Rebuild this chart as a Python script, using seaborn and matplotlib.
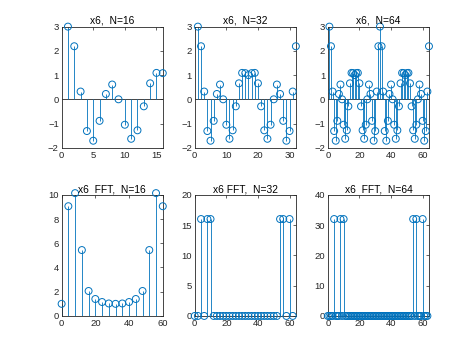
import numpy as np
import matplotlib
matplotlib.use("Agg")
import matplotlib.pyplot as plt
import seaborn as sns

# signal x6, one period is 32 samples
x6_16 = [3.0, 2.19, 0.32, -1.31, -1.71, -0.89, 0.22, 0.61,
         0.0, -1.05, -1.63, -1.28, -0.29, 0.66, 1.09, 1.08]
x6_32 = [3.0, 2.19, 0.32, -1.31, -1.71, -0.89, 0.22, 0.61,
         0.0, -1.05, -1.63, -1.28, -0.29, 0.66, 1.09, 1.08,
         1.0, 1.08, 1.09, 0.66, -0.29, -1.28, -1.63, -1.05,
         0.0, 0.61, 0.22, -0.89, -1.71, -1.31, 0.32, 2.19]
x6_64 = [3.0, 2.19, 0.32, -1.31, -1.71, -0.89, 0.22, 0.61,
         0.0, -1.05, -1.63, -1.28, -0.29, 0.66, 1.09, 1.08,
         1.0, 1.08, 1.09, 0.66, -0.29, -1.28, -1.63, -1.05,
         0.0, 0.61, 0.22, -0.89, -1.71, -1.31, 0.32, 2.19,
         3.0, 2.19, 0.32, -1.31, -1.71, -0.89, 0.22, 0.61,
         0.0, -1.05, -1.63, -1.28, -0.29, 0.66, 1.09, 1.08,
         1.0, 1.08, 1.09, 0.66, -0.29, -1.28, -1.63, -1.05,
         0.0, 0.61, 0.22, -0.89, -1.71, -1.31, 0.32, 2.19]

# FFT magnitudes
fft_16 = [1.0, 9.06, 10.14, 5.44, 2.06, 1.40, 1.15, 1.03,
          1.0, 1.03, 1.15, 1.40, 2.06, 5.44, 10.14, 9.06]
fft_32 = [0, 0, 16, 0, 16, 16, 0, 0, 0, 0, 0, 0, 0, 0, 0, 0,
          0, 0, 0, 0, 0, 0, 0, 0, 0, 0, 0, 16, 16, 0, 16, 0]
fft_64 = [0, 0, 0, 0, 32, 0, 0, 0, 32, 0, 32, 0, 0, 0, 0, 0,
          0, 0, 0, 0, 0, 0, 0, 0, 0, 0, 0, 0, 0, 0, 0, 0,
          0, 0, 0, 0, 0, 0, 0, 0, 0, 0, 0, 0, 0, 0, 0, 0,
          0, 0, 0, 0, 0, 0, 32, 0, 32, 0, 0, 0, 32, 0, 0, 0]

titles = ["x6,  N=16", "x6,  N=32", "x6,  N=64",
          "x6  FFT,  N=16", "x6 FFT,  N=32", "x6  FFT,  N=64"]

panels = [
    (np.arange(1, 17), x6_16, (0, 16), (-2, 3), [0, 5, 10, 15], range(-2, 4)),
    (np.arange(1, 33), x6_32, (0, 32), (-2, 3), [0, 10, 20, 30], range(-2, 4)),
    (np.arange(1, 65), x6_64, (0, 64), (-2, 3), [0, 20, 40, 60], range(-2, 4)),
    (np.arange(0, 64, 4), fft_16, (0, 60), (0, 10), [0, 20, 40, 60], range(0, 11, 2)),
    (np.arange(0, 64, 2), fft_32, (0, 64), (0, 20), [0, 20, 40, 60], range(0, 21, 5)),
    (np.arange(0, 64, 1), fft_64, (0, 64), (0, 40), [0, 20, 40, 60], range(0, 41, 10)),
]

sns.set_style("white")
plt.rcParams["font.family"] = ["Liberation Sans", "DejaVu Sans"]

blue = "#0072BD"
axcol = "#262626"

fig = plt.figure(figsize=(4.74, 3.55), dpi=100)
lefts = [0.13, 0.4108, 0.6916]
bottoms = [0.5838, 0.11]

for i, (xs, ys, xl, yl, xt, yt) in enumerate(panels):
    ax = fig.add_axes([lefts[i % 3], bottoms[i // 3], 0.2134, 0.3412])
    ax.axhline(0, color=axcol, lw=0.6, zorder=1)
    ax.vlines(xs, 0, ys, color=blue, lw=0.6, zorder=2)
    sns.scatterplot(x=xs, y=ys, ax=ax, marker="o", s=25, color=blue,
                    facecolors="none", edgecolor=blue, linewidth=0.7,
                    zorder=3, clip_on=False, legend=False)
    ax.set_xlim(*xl)
    ax.set_ylim(*yl)
    ax.set_xticks(xt)
    ax.set_yticks(list(yt))
    ax.set_title(titles[i], fontsize=7.4, color="black", pad=2)
    ax.tick_params(direction="in", length=2.5, width=0.5, labelsize=6.8,
                   colors=axcol, top=True, right=True, pad=2)
    for sp in ax.spines.values():
        sp.set_color(axcol)
        sp.set_linewidth(0.6)

fig.savefig("out.png", dpi=100)
